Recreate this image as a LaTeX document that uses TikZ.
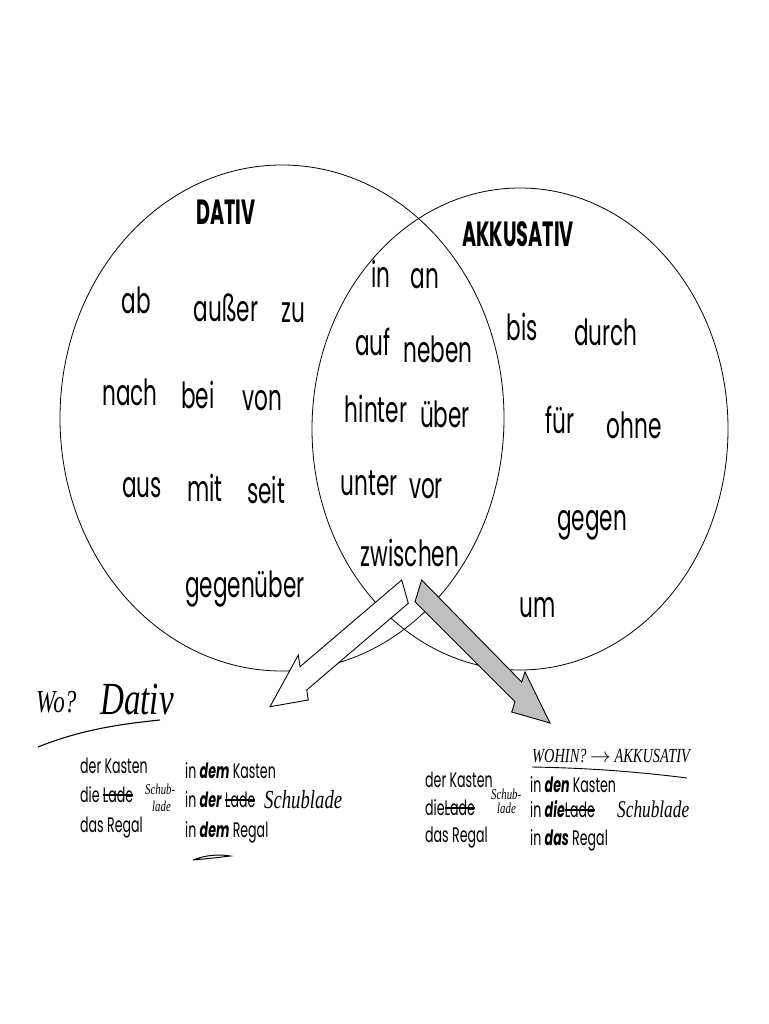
\documentclass[tikz,border=0pt]{standalone}
\usepackage{fontspec}
\newfontfamily\gothic[FakeStretch=0.6]{Poppins}
\newfontfamily\gothicB[FakeStretch=0.55]{Poppins}
\newfontfamily\gothicS[FakeStretch=0.6]{Poppins}
\newfontfamily\hand[FakeStretch=0.72]{Liberation Serif}
\newlength\strklen
\newcommand\strk[1]{\settowidth\strklen{#1}\rlap{\rule[0.3em]{\strklen}{0.07em}}#1}
\tikzset{
  wd/.style={font=\gothic\fontsize{36}{36}\selectfont, anchor=base, inner sep=0pt},
  hd/.style={font=\gothicB\bfseries\fontsize{35}{35}\selectfont, anchor=base, inner sep=0pt},
  sm/.style={font=\gothicS\fontsize{21}{21}\selectfont, anchor=base west, inner sep=0pt},
  hw/.style={font=\hand\itshape, anchor=base west, inner sep=0pt},
  ring/.style={draw=black, line width=0.8pt},
  barrow/.style={draw=black, line width=0.9pt, line join=miter},
}
\begin{document}
\begin{tikzpicture}[x=1pt,y=-1pt]
\useasboundingbox[fill=white] (0,0) rectangle (768,1024);
% circles
\draw[ring] (282,418) ellipse[x radius=222, y radius=253];
\draw[ring] (520,429) ellipse[x radius=208, y radius=241];
% headings
\node[hd] (dativ) at (226,225) {DATIV};
\node[hd] (akk) at (518,247) {AKKUSATIV};
% dative
\node[wd] (ab) at (136,313) {ab};
\node[wd] (ausser) at (226,321) {außer};
\node[wd] (zu) at (293,322) {zu};
\node[wd] (nach) at (130,405) {nach};
\node[wd] (bei) at (198,408) {bei};
\node[wd] (von) at (262,410) {von};
\node[wd] (aus) at (142,497) {aus};
\node[wd] (mit) at (205,501) {mit};
\node[wd] (seit) at (266,503) {seit};
\node[wd] (gegenueber) at (245,597) {gegenüber};
% both
\node[wd] (in) at (381,287) {in};
\node[wd] (an) at (425,288) {an};
\node[wd] (auf) at (373,355) {auf};
\node[wd] (neben) at (438,362) {neben};
\node[wd] (hinter) at (376,422) {hinter};
\node[wd] (ueber) at (445,427) {über};
\node[wd] (unter) at (369,495) {unter};
\node[wd] (vor) at (426,498) {vor};
\node[wd] (zwischen) at (410,566) {zwischen};
% accusative
\node[wd] (bis) at (522,340) {bis};
\node[wd] (durch) at (606,345) {durch};
\node[wd] (fuer) at (560,433) {für};
\node[wd] (ohne) at (634,438) {ohne};
\node[wd] (gegen) at (592,530) {gegen};
\node[wd] (um) at (538,617) {um};
% arrows
\draw[barrow, fill=white] (401.7,580) coordinate (wa1) -- (300,666.7) -- (298.3,655) -- (270,706.7) coordinate (wtip)
  -- (308.3,700) -- (306.7,690) -- (408.3,603.3) -- cycle;
\draw[barrow, fill=black!25] (421.7,580) coordinate (ga1) -- (521.7,682) -- (525,672) -- (550,723) coordinate (gtip)
  -- (511.7,712) -- (515,701.7) -- (415,601.7) -- cycle;
% Wo? Dativ
\node[hw, font=\hand\itshape\fontsize{32}{32}\selectfont] (wo) at (36,712) {Wo?};
\node[hw, font=\hand\itshape\fontsize{46}{46}\selectfont] (dhw) at (100,714) {Dativ};
\coordinate (ul1a) at (38,747);
\coordinate (ul1b) at (160,720);
\draw[line width=1.1pt] (ul1a) .. controls (80,730) and (120,724) .. (ul1b);
% left block
\node[sm] (l1) at (80,773) {der Kasten};
\node[sm] (l2) at (80,802) {die \strk{Lade}};
\node[sm] (l3) at (80,832) {das Regal};
\node[hw, font=\hand\itshape\fontsize{15}{15}\selectfont] (l2a) at (145,794) {Schub-};
\node[hw, font=\hand\itshape\fontsize{15}{15}\selectfont] (l2b) at (152,811) {lade};
\node[sm] (r1) at (185,778) {in \textbf{\textit{dem}} Kasten};
\node[sm] (r2) at (185,807) {in \textbf{\textit{der}} \strk{Lade}};
\node[hw, font=\hand\itshape\fontsize{26}{26}\selectfont] (r2b) at (264,808) {Schublade};
\node[sm] (r3) at (185,837) {in \textbf{\textit{dem}} Regal};
\coordinate (sq1) at (193,860);
\coordinate (sq2) at (230,856);
\draw[line width=1pt] (sq1) .. controls (205,855) and (220,854) .. (sq2) .. controls (215,858) and (203,859) .. (sq1);
% right block
\node[hw, font=\hand\itshape\fontsize{20}{20}\selectfont] (wohin) at (532,762) {WOHIN? $\to$ AKKUSATIV};
\coordinate (ul2a) at (532,767);
\coordinate (ul2b) at (687,778);
\draw[line width=0.9pt] (ul2a) .. controls (590,768) and (640,772) .. (ul2b);
\node[sm] (m1) at (425,787) {der Kasten};
\node[sm] (m2) at (425,815) {die\strk{Lade}};
\node[sm] (m3) at (425,842) {das Regal};
\node[hw, font=\hand\itshape\fontsize{15}{15}\selectfont] (m2a) at (491,799) {Schub-};
\node[hw, font=\hand\itshape\fontsize{15}{15}\selectfont] (m2b) at (497,813) {lade};
\node[sm] (n1) at (530,792) {in \textbf{\textit{den}} Kasten};
\node[sm] (n2) at (530,817) {in \textbf{\textit{die}}\strk{Lade}};
\node[hw, font=\hand\itshape\fontsize{24}{24}\selectfont] (n2b) at (617,817) {Schublade};
\node[sm] (n3) at (530,845) {in \textbf{\textit{das}} Regal};
\end{tikzpicture}
\end{document}
